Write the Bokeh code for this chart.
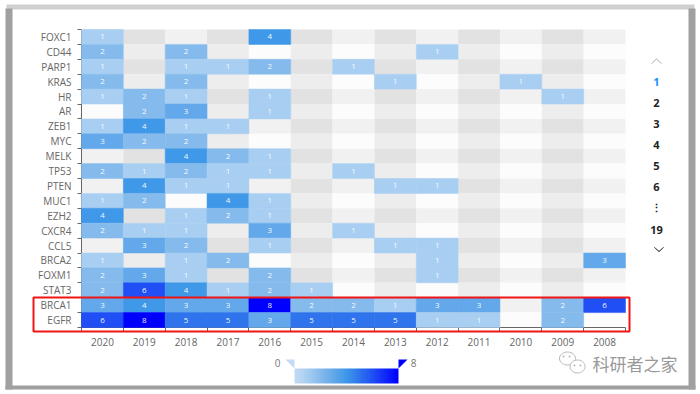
from bokeh.plotting import figure
from bokeh.models import (ColumnDataSource, FixedTicker, Range1d, Label, PolyAnnotation,
                          ColorBar, LinearColorMapper)
from bokeh.embed import file_html
from bokeh.resources import INLINE
from bokeh.core.properties import value
import numpy as np

years = ["2020","2019","2018","2017","2016","2015","2014","2013","2012","2011","2010","2009","2008"]
genes = ["FOXC1","CD44","PARP1","KRAS","HR","AR","ZEB1","MYC","MELK","TP53","PTEN","MUC1","EZH2",
         "CXCR4","CCL5","BRCA2","FOXM1","STAT3","BRCA1","EGFR"]
FOXC1 = [1,0,0,0,4,0,0,0,0,0,0,0,0]
CD44  = [2,0,2,0,0,0,0,0,1,0,0,0,0]
PARP1 = [1,0,1,1,2,0,1,0,0,0,0,0,0]
KRAS  = [2,0,2,0,0,0,0,1,0,0,1,0,0]
HR    = [1,2,1,0,1,0,0,0,0,0,0,1,0]
AR    = [0,2,3,0,1,0,0,0,0,0,0,0,0]
ZEB1  = [1,4,1,1,0,0,0,0,0,0,0,0,0]
MYC   = [3,2,2,0,0,0,0,0,0,0,0,0,0]
MELK  = [0,0,4,2,1,0,0,0,0,0,0,0,0]
TP53  = [2,1,2,1,1,0,1,0,0,0,0,0,0]
PTEN  = [0,4,1,1,0,0,0,1,1,0,0,0,0]
MUC1  = [1,2,0,4,1,0,0,0,0,0,0,0,0]
EZH2  = [4,0,1,2,1,0,0,0,0,0,0,0,0]
CXCR4 = [2,1,1,0,3,0,1,0,0,0,0,0,0]
CCL5  = [0,3,2,0,1,0,0,1,1,0,0,0,0]
BRCA2 = [1,0,1,2,0,0,0,0,1,0,0,0,3]
FOXM1 = [2,3,1,0,2,0,0,0,1,0,0,0,0]
STAT3 = [2,6,4,1,2,1,0,0,0,0,0,0,0]
BRCA1 = [3,4,3,3,8,2,2,1,3,3,0,2,6]
EGFR  = [6,8,5,5,3,5,5,5,1,1,0,2,0]
rows = [FOXC1,CD44,PARP1,KRAS,HR,AR,ZEB1,MYC,MELK,TP53,PTEN,MUC1,EZH2,CXCR4,CCL5,BRCA2,FOXM1,STAT3,BRCA1,EGFR]

scale = {1:"#a8cef1",2:"#85baec",3:"#63a8ea",4:"#3f98e8",5:"#2f74ec",6:"#2050f5",7:"#1028fa",8:"#0000ff"}
legend_stops = ["#c3dcf4","#a8cef1","#85baec","#63a8ea","#3f98e8","#2f74ec","#2050f5","#1028fa","#0000ff"]
page_items = ["1","2","3","4","5","6","⋮","19"]

W, H = 700, 394
L, T, R, B = 81, 29, 625, 327   # heatmap edges in window px
nx, ny = len(years), len(genes)
ux, uy = (R-L)/nx, (B-T)/ny

# the frame fills the whole canvas; ranges are set so the grid falls on the heatmap area
p = figure(width=W, height=H, output_backend="svg", toolbar_location=None,
           x_range=Range1d(-L/ux, (W-L)/ux), y_range=Range1d((H-T)/uy, -T/uy),
           min_border=0, min_border_left=0, min_border_right=0, min_border_top=0, min_border_bottom=0,
           outline_line_color=None, background_fill_color="white", border_fill_color="white")
p.grid.visible = False

bx, by, bc = [], [], []
for r in range(ny):
    for c in range(nx):
        bx.append(c+0.5); by.append(r+0.5)
        bc.append({(0,0):"#f1f1f1",(0,1):"#e2e2e2",(1,0):"#fcfcfc",(1,1):"#ededed"}[(r%2,c%2)])
p.rect(bx, by, 1, 1, fill_color=bc, line_color=None, level="image")

cx, cy, cc, cv = [], [], [], []
for r, row in enumerate(rows):
    for c, v in enumerate(row):
        if v:
            cx.append(c+0.5); cy.append(r+0.5); cc.append(scale[v]); cv.append(str(v))
src = ColumnDataSource(dict(x=cx, y=cy, c=cc, v=cv))
p.rect("x", "y", 1, 1, source=src, fill_color="c", line_color="c", line_width=0.5)
p.text("x", "y", text="v", source=src, text_color="white", text_font_size="8px", text_font=value("Open Sans"),
       text_align="center", text_baseline="middle", text_alpha=0.95)

xa, ya = p.xaxis[0], p.yaxis[0]
xa.fixed_location = ny
ya.fixed_location = 0
xa.bounds = (0, nx)
ya.bounds = (0, ny)
xa.ticker = FixedTicker(ticks=[i+0.5 for i in range(nx)], minor_ticks=list(range(nx+1)))
ya.ticker = FixedTicker(ticks=[i+0.5 for i in range(ny)], minor_ticks=list(range(ny+1)))
xa.major_label_overrides = {i+0.5: y for i, y in enumerate(years)}
ya.major_label_overrides = {i+0.5: g for i, g in enumerate(genes)}
for a in (xa, ya):
    a.level = "underlay"
    a.axis_line_color = "#666666"
    a.axis_line_width = 1
    a.major_tick_line_color = None
    a.major_tick_out = 0
    a.major_tick_in = 0
    a.minor_tick_line_color = "#666666"
    a.minor_tick_out = 4
    a.minor_tick_in = 0
    a.major_label_text_color = "#666666"
    a.major_label_text_font = "Open Sans"
    a.major_label_text_font_size = "10px"
    a.major_label_standoff = 6

def fx(X): return X
def fy(Y): return H - Y

def txt(X, Y, s, **kw):
    d = dict(x=fx(X), y=fy(Y), x_units="screen", y_units="screen", text=s, text_align="center",
             text_baseline="middle", text_font="Open Sans", text_font_size="10px", text_color="#333333")
    d.update(kw)
    p.add_layout(Label(**d))

def poly(xs, ys, **kw):
    kw.setdefault("line_alpha", 1)
    p.add_layout(PolyAnnotation(xs=[fx(x) for x in xs], ys=[fy(y) for y in ys], xs_units="screen", ys_units="screen", **kw))

# picture frame
for xs, ys, col in [([6,694,694,6],[4,4,9,9],"#d0d0d0"),
                    ([5,12,12,5],[8,8,389,389],"#a0a0a0"),
                    ([688,695,695,688],[8,8,389,389],"#a0a0a0"),
                    ([5,695,695,5],[385,385,389,389],"#a0a0a0")]:
    poly(xs, ys, fill_color=col, fill_alpha=1, line_color=None)

poly([33,629,629,33],[297,297,331,331], fill_alpha=0, line_color="#f01414", line_width=2)

# pager chevrons
poly([651,656,661,656],[63,58.5,63,58.5], fill_alpha=0, line_color="#c4c4c4", line_width=1)
poly([654,658.5,663,658.5],[247,251,247,251], fill_alpha=0, line_color="#555555", line_width=1)
for i, (s, y) in enumerate(zip(page_items, [81,102,123,144,165,186,207,229])):
    txt(656, y, s, text_color="#1890ff" if i == 0 else "#222222", text_font_style="bold", text_font_size="11px")

def hex2(c): return np.array([int(c[i:i+2], 16) for i in (1,3,5)])
stops = np.array([hex2(c) for c in legend_stops])
pos = np.linspace(0, 1, len(stops))
pal = ["#%02x%02x%02x" % tuple(int(np.interp(t, pos, stops[:,k])) for k in range(3)) for t in np.linspace(0,1,256)]
mapper = LinearColorMapper(palette=pal, low=0, high=8)
cb = ColorBar(color_mapper=mapper, orientation="horizontal", location=(fx(294), fy(383)), width=104, height=15,
              padding=0, margin=0, ticker=FixedTicker(ticks=[]), major_tick_line_color=None,
              minor_tick_line_color=None, bar_line_color=None, background_fill_alpha=0, border_line_color=None)
p.add_layout(cb)
poly([285,294,294],[359,359,368], fill_color="#c3dcf4", fill_alpha=1, line_color=None)
poly([398,407,398],[368,359,359], fill_color="#0000ff", fill_alpha=1, line_color=None)
txt(277, 362, "0", text_color="#777777")
txt(413, 362, "8", text_color="#777777")

txt(634.5, 363, "科研者之家", text_font="Noto Sans CJK SC", text_font_size="17px", text_color="#999999")
t = np.linspace(0, 2*np.pi, 40)
poly(list(567+8*np.cos(t)), list(358+6.5*np.sin(t)), fill_alpha=0, line_color="#b8b8b8", line_width=1)
poly(list(577+7.5*np.cos(t)), list(366+6.5*np.sin(t)), fill_color="white", fill_alpha=1, line_color="#b8b8b8", line_width=1)
for ex, ey in [(563,356),(569,356),(574,365),(580,365)]:
    poly(list(ex+0.9*np.cos(t)), list(ey+0.9*np.sin(t)), fill_color="#b0b0b0", fill_alpha=1, line_color=None)

open("out.html", "w").write(file_html(p, INLINE))
